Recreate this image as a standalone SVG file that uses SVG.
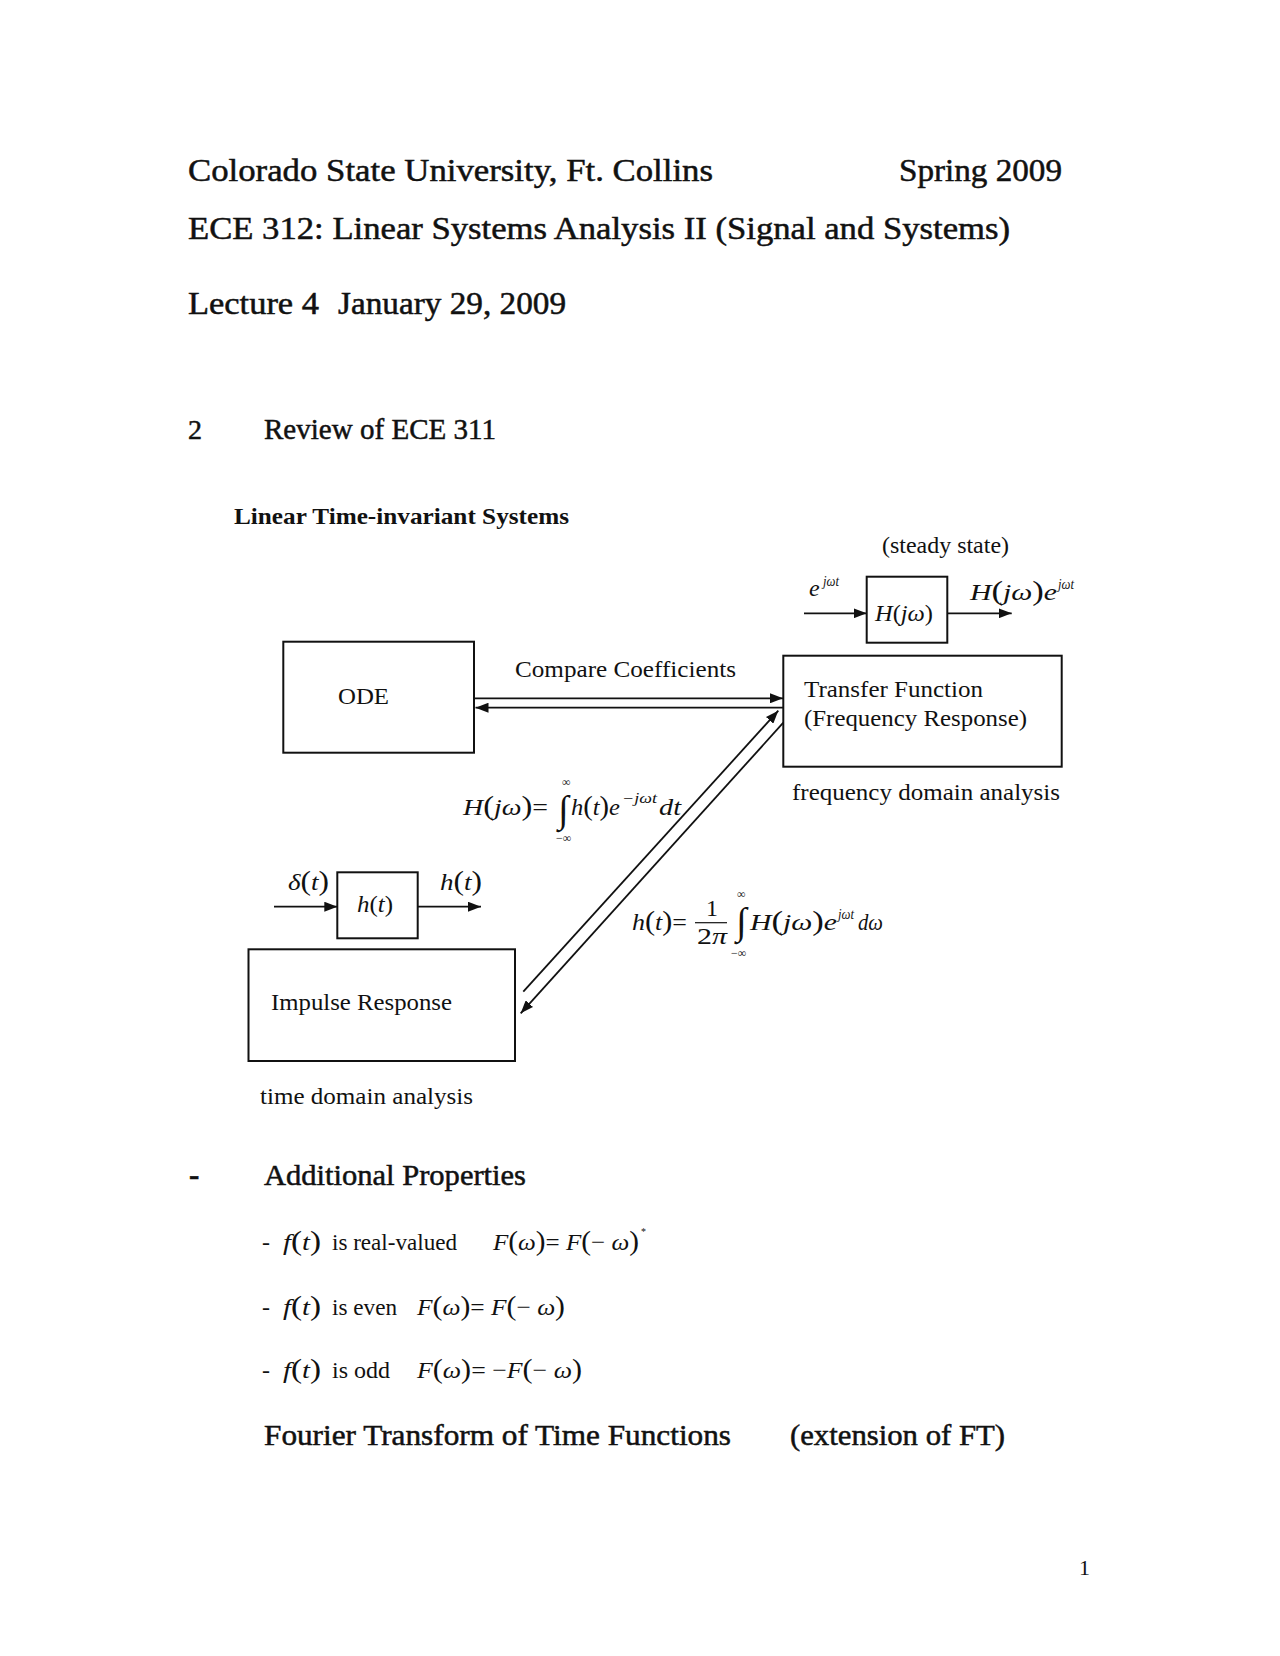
<svg xmlns="http://www.w3.org/2000/svg" width="1280" height="1656" viewBox="0 0 1280 1656">
<style>
text{font-family:"Liberation Serif","Times New Roman",serif;fill:#111}
.hd{font-size:31px;stroke:#111;stroke-width:0.5}
.lb{font-size:24px}
.it{font-style:italic}
.box{fill:none;stroke:#111;stroke-width:2}
.ln{fill:none;stroke:#111;stroke-width:1.8}
.sm{font-size:12px}
.sup{font-size:14px;font-style:italic}
.int{font-size:38px}
</style>
<defs>
<marker id="ah" markerUnits="userSpaceOnUse" markerWidth="14" markerHeight="10" refX="13" refY="5" orient="auto">
<path d="M0,0 L13,5 L0,10 z" fill="#111"/>
</marker>
</defs>
<rect width="1280" height="1656" fill="#fff"/>

<g id="header">
<text class="hd" x="188" y="181" textLength="525" lengthAdjust="spacingAndGlyphs">Colorado State University, Ft. Collins</text>
<text class="hd" x="899" y="181" textLength="163" lengthAdjust="spacingAndGlyphs">Spring 2009</text>
<text class="hd" x="188" y="239" textLength="822" lengthAdjust="spacingAndGlyphs">ECE 312: Linear Systems Analysis II (Signal and Systems)</text>
<text class="hd" x="188" y="314" textLength="131" lengthAdjust="spacingAndGlyphs">Lecture 4</text>
<text class="hd" x="338" y="314" textLength="228" lengthAdjust="spacingAndGlyphs">January 29, 2009</text>
<text class="hd" x="188" y="439" style="font-size:28px">2</text>
<text class="hd" x="264" y="439" textLength="232" lengthAdjust="spacingAndGlyphs" style="font-size:29px">Review of ECE 311</text>
<text x="234" y="524" font-size="23" font-weight="bold" textLength="335" lengthAdjust="spacingAndGlyphs">Linear Time-invariant Systems</text>
</g>

<g id="connectors">
<line class="ln" x1="474" y1="698.3" x2="783" y2="698.3" marker-end="url(#ah)"/>
<line class="ln" x1="783" y1="707.7" x2="475.5" y2="707.7" marker-end="url(#ah)"/>
<line class="ln" x1="523.3" y1="991.7" x2="778.3" y2="710.7" marker-end="url(#ah)"/>
<line class="ln" x1="783.3" y1="722.7" x2="520.7" y2="1013.3" marker-end="url(#ah)"/>
<line class="ln" x1="804" y1="613.3" x2="866.7" y2="613.3" marker-end="url(#ah)"/>
<line class="ln" x1="947.3" y1="613.3" x2="1011.7" y2="613.3" marker-end="url(#ah)"/>
<line class="ln" x1="274" y1="906.7" x2="337.3" y2="906.7" marker-end="url(#ah)"/>
<line class="ln" x1="417.7" y1="906.7" x2="481" y2="906.7" marker-end="url(#ah)"/>
</g>

<g id="ode">
<rect class="box" x="283.3" y="641.7" width="190.7" height="111"/>
<text class="lb" x="338" y="704" textLength="51" lengthAdjust="spacingAndGlyphs">ODE</text>
</g>

<g id="transfer-function">
<rect class="box" x="783.3" y="655.7" width="278.4" height="111"/>
<text class="lb" x="804" y="697" textLength="179" lengthAdjust="spacingAndGlyphs">Transfer Function</text>
<text class="lb" x="804" y="726" textLength="223" lengthAdjust="spacingAndGlyphs">(Frequency Response)</text>
</g>

<g id="h-jw-block">
<rect class="box" x="866.7" y="576.7" width="80.6" height="66"/>
<text class="lb" x="875" y="621" textLength="58" lengthAdjust="spacingAndGlyphs"><tspan class="it">H</tspan>(<tspan class="it">jω</tspan>)</text>
</g>

<g id="h-t-block">
<rect class="box" x="337.3" y="872.3" width="80.4" height="66"/>
<text class="lb" x="357" y="912" textLength="36" lengthAdjust="spacingAndGlyphs"><tspan class="it">h</tspan>(<tspan class="it">t</tspan>)</text>
</g>

<g id="impulse-response">
<rect class="box" x="248.5" y="949.3" width="266.5" height="111.7"/>
<text class="lb" x="271" y="1010" textLength="181" lengthAdjust="spacingAndGlyphs">Impulse Response</text>
</g>

<g id="labels">
<text class="lb" x="882" y="553" textLength="127" lengthAdjust="spacingAndGlyphs">(steady state)</text>
<text class="lb it" x="809" y="596">e</text>
<text class="sup" x="823" y="586" textLength="16" lengthAdjust="spacingAndGlyphs">jωt</text>
<text class="lb" x="970" y="600" textLength="87" lengthAdjust="spacingAndGlyphs"><tspan class="it">H</tspan><tspan font-size="28">(</tspan><tspan class="it">jω</tspan><tspan font-size="28">)</tspan><tspan class="it">e</tspan></text>
<text class="sup" x="1058" y="589" textLength="16" lengthAdjust="spacingAndGlyphs">jωt</text>
<text class="lb" x="515" y="677" textLength="221" lengthAdjust="spacingAndGlyphs">Compare Coefficients</text>
<text class="lb" x="792" y="800" textLength="268" lengthAdjust="spacingAndGlyphs">frequency domain analysis</text>
<text class="lb" x="260" y="1104" textLength="213" lengthAdjust="spacingAndGlyphs">time domain analysis</text>
<text class="lb" x="288" y="890" textLength="41" lengthAdjust="spacingAndGlyphs"><tspan class="it">δ</tspan><tspan font-size="28">(</tspan><tspan class="it">t</tspan><tspan font-size="28">)</tspan></text>
<text class="lb" x="440" y="890" textLength="42" lengthAdjust="spacingAndGlyphs"><tspan class="it">h</tspan><tspan font-size="28">(</tspan><tspan class="it">t</tspan><tspan font-size="28">)</tspan></text>
</g>

<g id="formula-forward">
<text class="lb" x="463" y="815" textLength="85" lengthAdjust="spacingAndGlyphs"><tspan class="it">H</tspan><tspan font-size="28">(</tspan><tspan class="it">jω</tspan><tspan font-size="28">)</tspan>=</text>
<text class="int" x="558" y="822">∫</text>
<text class="sm" x="562" y="786">∞</text>
<text class="sm" x="556" y="842">−∞</text>
<text class="lb" x="571" y="815" textLength="49" lengthAdjust="spacingAndGlyphs"><tspan class="it">h</tspan><tspan font-size="28">(</tspan><tspan class="it">t</tspan><tspan font-size="28">)</tspan><tspan class="it">e</tspan></text>
<text class="sup" x="622" y="803" textLength="35" lengthAdjust="spacingAndGlyphs">−jωt</text>
<text class="lb it" x="659" y="815" textLength="22" lengthAdjust="spacingAndGlyphs">dt</text>
</g>

<g id="formula-inverse">
<text class="lb" x="632" y="930" textLength="55" lengthAdjust="spacingAndGlyphs"><tspan class="it">h</tspan><tspan font-size="28">(</tspan><tspan class="it">t</tspan><tspan font-size="28">)</tspan>=</text>
<text class="lb" x="706" y="916">1</text>
<line x1="695" y1="922.7" x2="727" y2="922.7" stroke="#111" stroke-width="1.2"/>
<text class="lb" x="697" y="944" textLength="30" lengthAdjust="spacingAndGlyphs">2<tspan class="it">π</tspan></text>
<text class="int" x="736" y="934">∫</text>
<text class="sm" x="737" y="898">∞</text>
<text class="sm" x="731" y="957">−∞</text>
<text class="lb" x="750" y="930" textLength="87" lengthAdjust="spacingAndGlyphs"><tspan class="it">H</tspan><tspan font-size="28">(</tspan><tspan class="it">jω</tspan><tspan font-size="28">)</tspan><tspan class="it">e</tspan></text>
<text class="sup" x="838" y="919" textLength="16" lengthAdjust="spacingAndGlyphs">jωt</text>
<text class="lb it" x="858" y="930" textLength="25" lengthAdjust="spacingAndGlyphs">dω</text>
</g>

<g id="properties">
<text class="hd" x="189" y="1185" font-weight="bold">-</text>
<text class="hd" x="264" y="1185" textLength="262" lengthAdjust="spacingAndGlyphs" style="font-size:29px">Additional Properties</text>

<text class="lb" x="262" y="1250">-</text>
<text class="lb" x="283" y="1250" textLength="38" lengthAdjust="spacingAndGlyphs"><tspan class="it">f</tspan><tspan font-size="28">(</tspan><tspan class="it">t</tspan><tspan font-size="28">)</tspan></text>
<text class="lb" x="332" y="1250" textLength="125" lengthAdjust="spacingAndGlyphs">is real-valued</text>
<text class="lb" x="493" y="1250" textLength="146" lengthAdjust="spacingAndGlyphs"><tspan class="it">F</tspan><tspan font-size="28">(</tspan><tspan class="it">ω</tspan><tspan font-size="28">)</tspan>= <tspan class="it">F</tspan><tspan font-size="28">(</tspan>− <tspan class="it">ω</tspan><tspan font-size="28">)</tspan></text>
<text x="641" y="1235" font-size="10">*</text>

<text class="lb" x="262" y="1315">-</text>
<text class="lb" x="283" y="1315" textLength="38" lengthAdjust="spacingAndGlyphs"><tspan class="it">f</tspan><tspan font-size="28">(</tspan><tspan class="it">t</tspan><tspan font-size="28">)</tspan></text>
<text class="lb" x="332" y="1315" textLength="65" lengthAdjust="spacingAndGlyphs">is even</text>
<text class="lb" x="417" y="1315" textLength="148" lengthAdjust="spacingAndGlyphs"><tspan class="it">F</tspan><tspan font-size="28">(</tspan><tspan class="it">ω</tspan><tspan font-size="28">)</tspan>= <tspan class="it">F</tspan><tspan font-size="28">(</tspan>− <tspan class="it">ω</tspan><tspan font-size="28">)</tspan></text>

<text class="lb" x="262" y="1378">-</text>
<text class="lb" x="283" y="1378" textLength="38" lengthAdjust="spacingAndGlyphs"><tspan class="it">f</tspan><tspan font-size="28">(</tspan><tspan class="it">t</tspan><tspan font-size="28">)</tspan></text>
<text class="lb" x="332" y="1378" textLength="58" lengthAdjust="spacingAndGlyphs">is odd</text>
<text class="lb" x="417" y="1378" textLength="165" lengthAdjust="spacingAndGlyphs"><tspan class="it">F</tspan><tspan font-size="28">(</tspan><tspan class="it">ω</tspan><tspan font-size="28">)</tspan>= −<tspan class="it">F</tspan><tspan font-size="28">(</tspan>− <tspan class="it">ω</tspan><tspan font-size="28">)</tspan></text>

<text class="hd" x="264" y="1445" textLength="467" lengthAdjust="spacingAndGlyphs" style="font-size:29px">Fourier Transform of Time Functions</text>
<text class="hd" x="790" y="1445" textLength="215" lengthAdjust="spacingAndGlyphs" style="font-size:29px">(extension of FT)</text>
<text x="1079" y="1575" font-size="22">1</text>
</g>
</svg>
